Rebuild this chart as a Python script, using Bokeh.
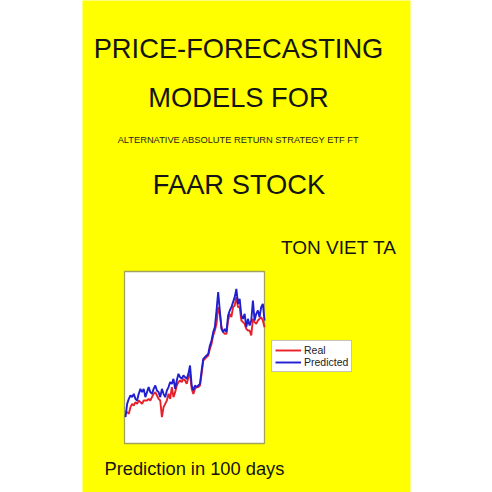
from bokeh.plotting import figure
from bokeh.models import Range1d, Legend, LegendItem
from bokeh.core.properties import value
from bokeh.embed import file_html
from bokeh.resources import INLINE

# ---- data ----
title_lines = ["PRICE-FORECASTING", "MODELS FOR"]
subtitle = "ALTERNATIVE ABSOLUTE RETURN STRATEGY ETF FT"
ticker_line = "FAAR STOCK"
author = "TON VIET TA"
footer = "Prediction in 100 days"
series_names = ["Real", "Predicted"]

predicted = [26.10, 26.50, 26.65, 26.75, 26.70, 26.80, 26.65, 26.60, 26.80, 26.95,
             26.85, 26.95, 26.70, 26.85, 27.00, 26.85, 26.80, 26.95, 27.05, 26.90,
             26.85, 26.70, 26.95, 26.80, 26.70, 26.90, 27.00, 27.15, 27.10, 27.25,
             26.95, 27.20, 27.40, 27.30, 27.25, 27.35, 27.30, 27.25, 27.40, 27.65,
             27.05, 26.90, 27.05, 27.00, 27.05, 27.10, 27.50, 27.85, 27.90, 27.95,
             28.00, 28.25, 28.40, 28.65, 28.80, 29.30, 29.85, 29.30, 28.75, 28.65,
             28.75, 28.65, 29.15, 29.30, 29.40, 29.55, 29.70, 29.95, 29.50, 29.65,
             29.15, 29.05, 29.20, 28.80, 29.05, 28.85, 29.00, 29.60, 29.00, 29.20,
             29.30, 29.10, 29.40, 29.50, 29.00]
real = [26.25, 26.25, 26.20, 26.40, 26.50, 26.45, 26.55, 26.50, 26.60, 26.55,
        26.50, 26.60, 26.60, 26.60, 26.65, 26.60, 26.70, 26.80, 26.85, 26.75,
        26.65, 26.60, 26.10, 26.40, 26.50, 26.60, 26.80, 26.65, 27.00, 26.70,
        26.85, 27.05, 27.15, 27.20, 27.15, 27.25, 27.20, 27.10, 27.30, 27.40,
        26.95, 26.80, 26.95, 27.00, 27.00, 27.05, 27.40, 27.80, 27.85, 27.90,
        27.95, 28.15, 28.30, 28.55, 28.70, 28.90, 29.40, 29.20, 28.80, 28.65,
        28.60, 28.60, 29.00, 29.20, 29.10, 29.40, 29.45, 29.70, 29.40, 29.40,
        29.00, 28.95, 28.90, 28.75, 28.70, 28.70, 28.55, 29.05, 28.95, 28.90,
        29.00, 29.05, 29.10, 29.00, 28.80]
days = list(range(len(real)))

# inner chart axis limits
x_lo, x_hi = -0.6, len(days) - 1
y_lo, y_hi = 25.31, 30.47

# ---- layout (pixels inside the figure) ----
W = H = 492
box_l, box_r, box_t, box_b = 124, 264, 271, 443

p = figure(width=W, height=H, output_backend="svg", toolbar_location=None,
           x_range=Range1d(0, W), y_range=Range1d(H, 0), min_border=0)
p.axis.visible = False
p.grid.visible = False
p.outline_line_color = None
p.background_fill_color = "white"
p.border_fill_color = "white"

# yellow cover
p.quad(left=[82], right=[410], top=[-10], bottom=[H + 10],
       fill_color="#ffff00", line_color=None)

font = value("Liberation Sans")
col = "#141414"
p.text(x=[238, 238], y=[47.5, 97.3], text=title_lines, text_font=font,
       text_font_size="27.3px", text_align="center", text_baseline="alphabetic",
       text_color=col)
p.text(x=[238], y=[139], text=[subtitle], text_font=font, text_font_size="9.3px",
       text_align="center", text_baseline="alphabetic", text_color="#1e1e1e")
p.text(x=[238.5], y=[184], text=[ticker_line], text_font=font, text_font_size="27.3px",
       text_align="center", text_baseline="alphabetic", text_color=col)
p.text(x=[396], y=[247], text=[author], text_font=font, text_font_size="19px",
       text_align="right", text_baseline="alphabetic", text_color=col)
p.text(x=[104], y=[467.5], text=[footer], text_font=font, text_font_size="18.3px",
       text_align="left", text_baseline="alphabetic", text_color=col)

# inner chart ranges mapped onto the box region
ppx = (box_r - box_l) / (x_hi - x_lo)
ppy = (box_b - box_t) / (y_hi - y_lo)
p.extra_x_ranges = {"ix": Range1d(x_lo - box_l / ppx, x_hi + (W - box_r) / ppx)}
p.extra_y_ranges = {"iy": Range1d(y_lo - (H - box_b) / ppy, y_hi + box_t / ppy)}

p.quad(left=[x_lo], right=[x_hi], bottom=[y_lo], top=[y_hi],
       x_range_name="ix", y_range_name="iy",
       fill_color="white", line_color="#a3a35c", line_width=1.3)
r_real = p.line(days, real, x_range_name="ix", y_range_name="iy",
                line_color="#e8202a", line_width=1.9)
r_pred = p.line(days, predicted, x_range_name="ix", y_range_name="iy",
                line_color="#1f1fd0", line_width=1.9)

legend = Legend(items=[LegendItem(label=series_names[0], renderers=[r_real]),
                       LegendItem(label=series_names[1], renderers=[r_pred])],
                location=(271, H - 372), padding=3, spacing=0, margin=0,
                glyph_width=26, glyph_height=12, label_height=12,
                label_standoff=3, label_text_font="Liberation Sans",
                label_text_font_size="10.5px", label_text_color="#222222",
                border_line_color="#8c8c6a", border_line_width=1,
                background_fill_color="white", background_fill_alpha=1)
p.add_layout(legend, "center")

open("out.html", "w").write(file_html(p, INLINE))
